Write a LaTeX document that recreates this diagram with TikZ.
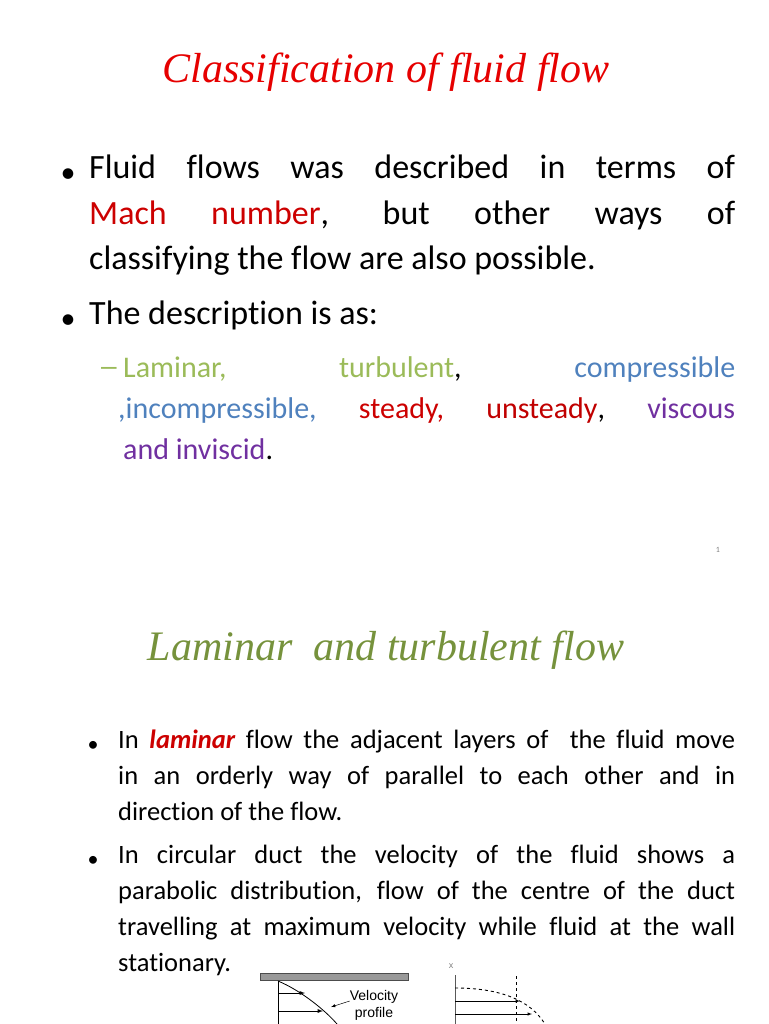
\documentclass[tikz,border=0pt]{standalone}
\usepackage{fontspec}
\setmainfont{Carlito}[Ligatures=NoCommon]
\newfontfamily\titlefont{Liberation Serif}
\newfontfamily\figfont{Liberation Sans}
\begin{document}
\begin{tikzpicture}[x=1pt,y=-1pt,
  txt/.style={anchor=north west,inner sep=0pt,align=justify},
  arr/.style={-latex,line width=0.9pt}]
\definecolor{tred}{RGB}{230,0,0}
\definecolor{mred}{RGB}{204,0,0}
\definecolor{dred}{RGB}{192,0,0}
\definecolor{lgreen}{RGB}{155,187,89}
\definecolor{lblue}{RGB}{79,129,189}
\definecolor{purp}{RGB}{112,48,160}
\definecolor{olive}{RGB}{118,146,60}
\useasboundingbox (0,0) rectangle (768,1024);
\node[inner sep=0pt,text=tred] (t1) at (386,72) {\titlefont\itshape\fontsize{42}{44}\selectfont Classification of fluid flow};
\node[inner sep=0pt] (b1) at (68,176) {\fontsize{30}{30}\selectfont •};
\node[txt,text width=646] (p1) at (89,155) {\fontsize{34}{45.5}\selectfont\hyphenpenalty=10000 Fluid flows was described in terms of\linebreak {\color{mred}Mach number}, but other ways of\linebreak classifying the flow are also possible.\par};
\node[inner sep=0pt] (b2) at (68,322) {\fontsize{30}{30}\selectfont •};
\node[txt] (p2) at (89,301) {\fontsize{34}{45.5}\selectfont The description is as:};
\node[inner sep=0pt,text=lgreen] (d) at (109,371) {\figfont\fontsize{28}{28}\selectfont –};
\node[txt,text width=612] (p3) at (123,356) {\fontsize{30}{41}\selectfont\hyphenpenalty=10000 {\color{lgreen}Laminar,} {\color{lgreen}turbulent}, {\color{lblue}compressible}\linebreak\hspace*{-5pt}{\color{lblue},incompressible,} {\color{mred}steady,} {\color{dred}unsteady}, {\color{purp}viscous}\linebreak{\color{purp}and inviscid}.\par};
\node[inner sep=0pt,text=gray] (pg) at (718,550) {\fontsize{8}{8}\selectfont 1};
\node[inner sep=0pt,text=olive] (t2) at (386,650) {\titlefont\itshape\fontsize{42}{44}\selectfont Laminar\ \ and turbulent flow};
\node[inner sep=0pt] (b3) at (93,746) {\fontsize{22}{22}\selectfont •};
\node[txt,text width=617] (p4) at (118,730) {\fontsize{26.5}{36}\selectfont\hyphenpenalty=10000 In {\color{mred}\bfseries\itshape laminar} flow the adjacent layers of\ \ the fluid move\linebreak in an orderly way of parallel to each other and in\linebreak direction of the flow.\par};
\node[inner sep=0pt] (b4) at (93,861) {\fontsize{22}{22}\selectfont •};
\node[txt,text width=617] (p5) at (118,845) {\fontsize{26.5}{36}\selectfont\hyphenpenalty=10000 In circular duct the velocity of the fluid shows a\linebreak parabolic distribution, flow of the centre of the duct\linebreak travelling at maximum velocity while fluid at the wall\linebreak stationary.\par};
% figure left
\fill[gray!80,draw=black!70] (260,973) rectangle (408,980);
\coordinate (w0) at (278,981);
\coordinate (w1) at (278,1024);
\draw[line width=1pt] (w0) -- (w1);
\draw[line width=0.8pt] (w0) .. controls (300,990) and (325,1010) .. (337,1024);
\coordinate (a1s) at (278,993); \coordinate (a1e) at (305,993);
\coordinate (a2s) at (278,1011); \coordinate (a2e) at (323,1011);
\draw[arr] (a1s) -- (a1e);
\draw[arr] (a2s) -- (a2e);
\node[inner sep=0pt,align=center,font=\figfont\fontsize{14}{17}\selectfont] (vp) at (374,1005) {Velocity\\profile};
\coordinate (vpa) at (331,1007);
\draw[-latex,line width=0.5pt] ([yshift=4pt]vp.west) -- (vpa);
% figure right
\node[inner sep=0pt,text=gray] (xl) at (451,966) {\figfont\fontsize{9}{9}\selectfont x};
\coordinate (r0) at (455,975); \coordinate (r1) at (455,1024);
\draw[line width=0.8pt,gray!70!black] (r0) -- (r1);
\draw[dashed,line width=0.6pt] (516,976) -- (516,1024);
\draw[dashed,line width=0.9pt] (455,988) .. controls (500,988) and (530,1000) .. (545,1024);
\coordinate (c1s) at (455,1001); \coordinate (c1e) at (520,1001);
\coordinate (c2s) at (455,1014); \coordinate (c2e) at (532,1014);
\draw[-latex,line width=0.5pt] (c1s) -- (c1e);
\draw[-latex,line width=0.5pt] (c2s) -- (c2e);
\end{tikzpicture}
\end{document}
